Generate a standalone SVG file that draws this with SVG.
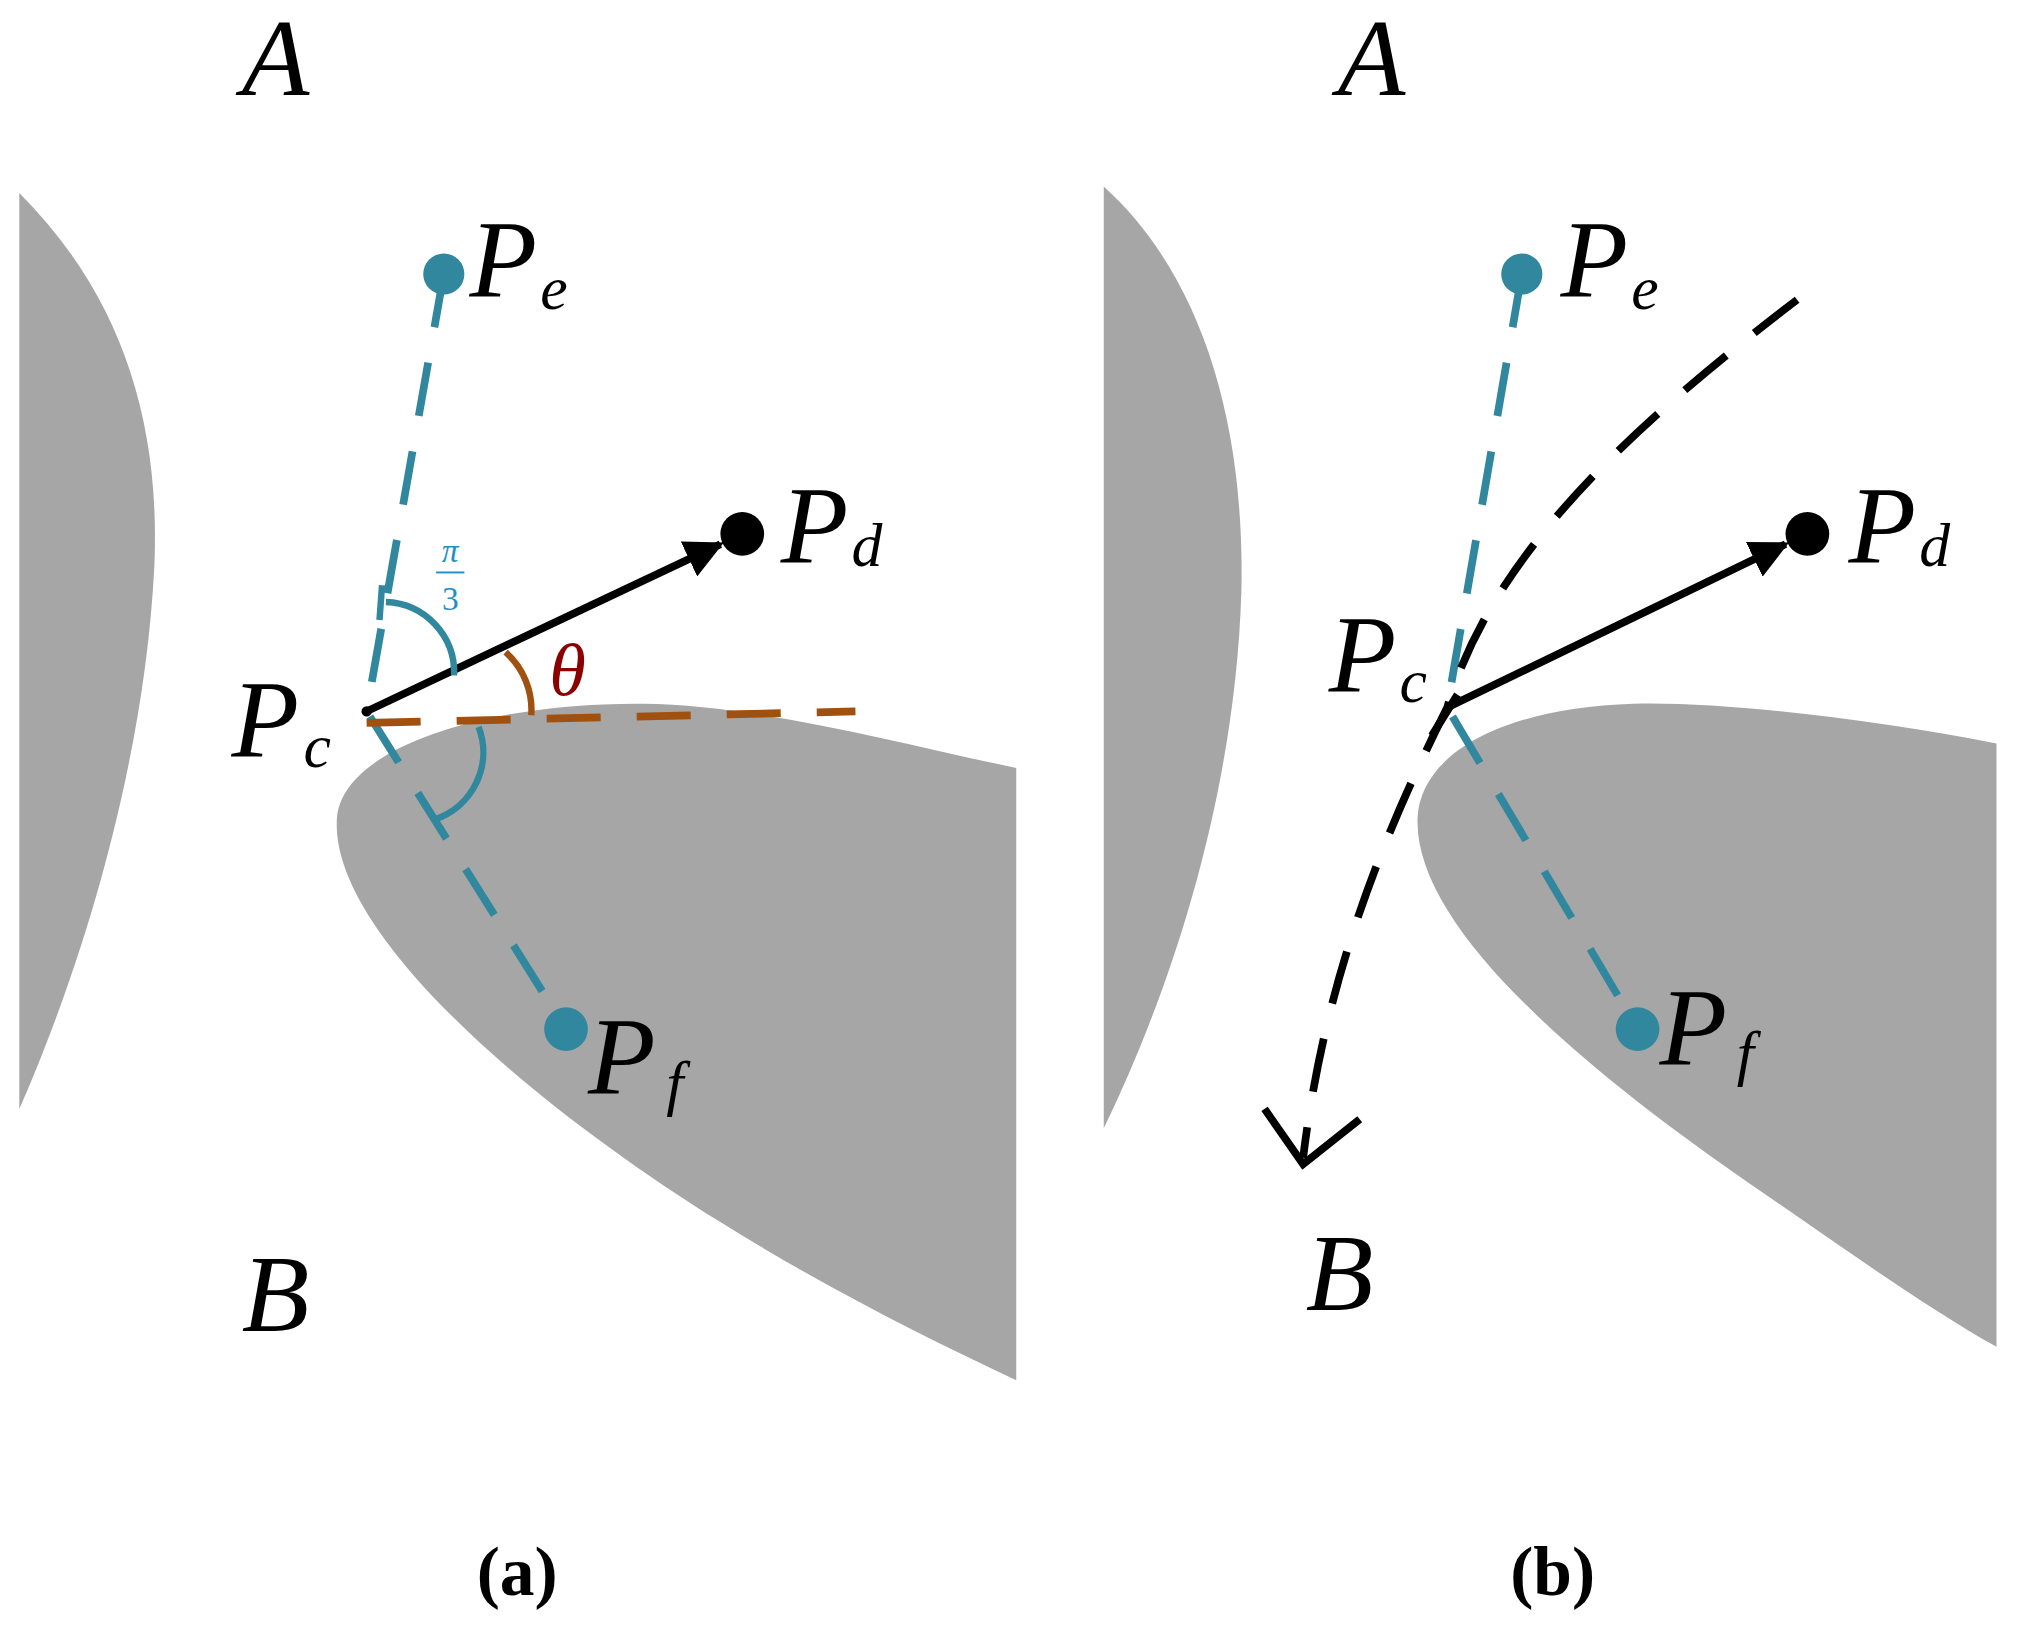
<svg xmlns="http://www.w3.org/2000/svg" width="2017" height="1628" viewBox="0 0 2017 1628">
<style>
.g{fill:#a6a6a6}
.m{font-family:"Liberation Serif",serif;font-style:italic;fill:#000;font-size:86px}
.s{font-family:"Liberation Serif",serif;font-style:italic;fill:#000;font-size:48px}
.t{stroke:#31889e;stroke-width:6;fill:none;stroke-dasharray:42,28}
.o{stroke:#a0500f;stroke-width:6;fill:none;stroke-dasharray:42,28}
.k{stroke:#000;stroke-width:6;fill:none}
.cap{font-family:"Liberation Serif",serif;font-weight:bold;font-size:54px}
</style>
<defs>
<marker id="ah" viewBox="0 0 10 10" refX="9" refY="5" markerWidth="5" markerHeight="5" markerUnits="strokeWidth" orient="auto"><path d="M0,0L10,5L0,10z" fill="#000"/></marker>
</defs>
<rect width="2017" height="1628" fill="#fff"/>
<g transform="scale(1.2864)">
<g id="panel-a">
<path class="g" d="M15,150 C90,225 125,320 120,440 C112,600 60,760 15,862 Z"/>
<path class="g" d="M790,597 C700,578 590,548 500,547 C380,546 268,580 262,635 C255,720 400,850 560,950 C640,1000 720,1040 790,1073 Z"/>
<g id="a-connectors">
<path class="t" d="M345,213 L285,553 L440,800"/>
<path class="o" d="M285,562 L665,553"/>
<path class="k" d="M285,553 L560,423" marker-end="url(#ah)" stroke-width="5"/>
<path d="M300,468 A55,55 0 0 1 353,525" stroke="#31889e" stroke-width="5" fill="none"/>
<path d="M297,455 L295,482" stroke="#31889e" stroke-width="5"/>
<path d="M372,565 A55,55 0 0 1 338,637" stroke="#31889e" stroke-width="5" fill="none"/>
<path d="M393,507 A60,60 0 0 1 413,556" stroke="#a0500f" stroke-width="5" fill="none"/>
</g>
<circle id="a-pe" cx="345" cy="213" r="16" fill="#31889e"/>
<circle id="a-pd" cx="577" cy="415" r="17" fill="#000"/>
<circle id="a-pf" cx="440" cy="800" r="17" fill="#31889e"/>
<circle cx="285" cy="553" r="4" fill="#000"/>
<text class="m" x="188" y="74">A</text>
<text class="m" x="188" y="1035">B</text>
<text class="m" x="180" y="588">P</text><text class="s" x="236" y="596">c</text>
<text class="m" x="365" y="230">P</text><text class="s" x="420" y="240">e</text>
<text class="m" x="607" y="437">P</text><text class="s" x="662" y="440">d</text>
<text class="m" x="457" y="850">P</text><text class="s" x="518" y="858">f</text>
<text x="427" y="540" font-family="Liberation Serif,serif" font-style="italic" font-size="58" fill="#8b0000">θ</text>
<text x="350" y="437" font-family="Liberation Serif,serif" font-style="italic" font-size="26" fill="#1e90c8" text-anchor="middle">π</text>
<line x1="339" y1="445" x2="361" y2="445" stroke="#1e90c8" stroke-width="1.5"/>
<text x="350" y="474" font-family="Liberation Serif,serif" font-size="26" fill="#1e90c8" text-anchor="middle">3</text>
<text class="cap" x="402" y="1240" text-anchor="middle">(a)</text>
</g>
<g id="panel-b">
<path class="g" d="M858,145 C930,210 968,320 965,460 C960,620 910,770 858,877 Z"/>
<path class="g" d="M1552,578 C1460,560 1340,545 1270,547 C1170,550 1105,585 1102,635 C1098,720 1230,830 1360,920 C1430,968 1495,1015 1552,1047 Z"/>
<g id="b-connectors">
<path class="t" d="M1183,213 L1125,550 L1273,800"/>
<path class="k" d="M1397,233 C1270,330 1160,430 1125,550 C1075,650 1030,760 1013,900" stroke-dasharray="42,28"/>
<path class="k" d="M983,862 L1013,905 L1057,870"/>
<path class="k" d="M1125,550 L1388,423" marker-end="url(#ah)" stroke-width="5"/>
<path d="M1113,572 L1133,540" stroke="#000" stroke-width="6"/>
</g>
<circle id="b-pe" cx="1183" cy="213" r="16" fill="#31889e"/>
<circle id="b-pd" cx="1405" cy="415" r="17" fill="#000"/>
<circle id="b-pf" cx="1273" cy="800" r="17" fill="#31889e"/>
<text class="m" x="1040" y="74">A</text>
<text class="m" x="1015" y="1018">B</text>
<text class="m" x="1033" y="537">P</text><text class="s" x="1088" y="546">c</text>
<text class="m" x="1213" y="230">P</text><text class="s" x="1268" y="240">e</text>
<text class="m" x="1437" y="437">P</text><text class="s" x="1492" y="440">d</text>
<text class="m" x="1290" y="827">P</text><text class="s" x="1350" y="835">f</text>
<text class="cap" x="1207" y="1240" text-anchor="middle">(b)</text>
</g>
</g>
</svg>
